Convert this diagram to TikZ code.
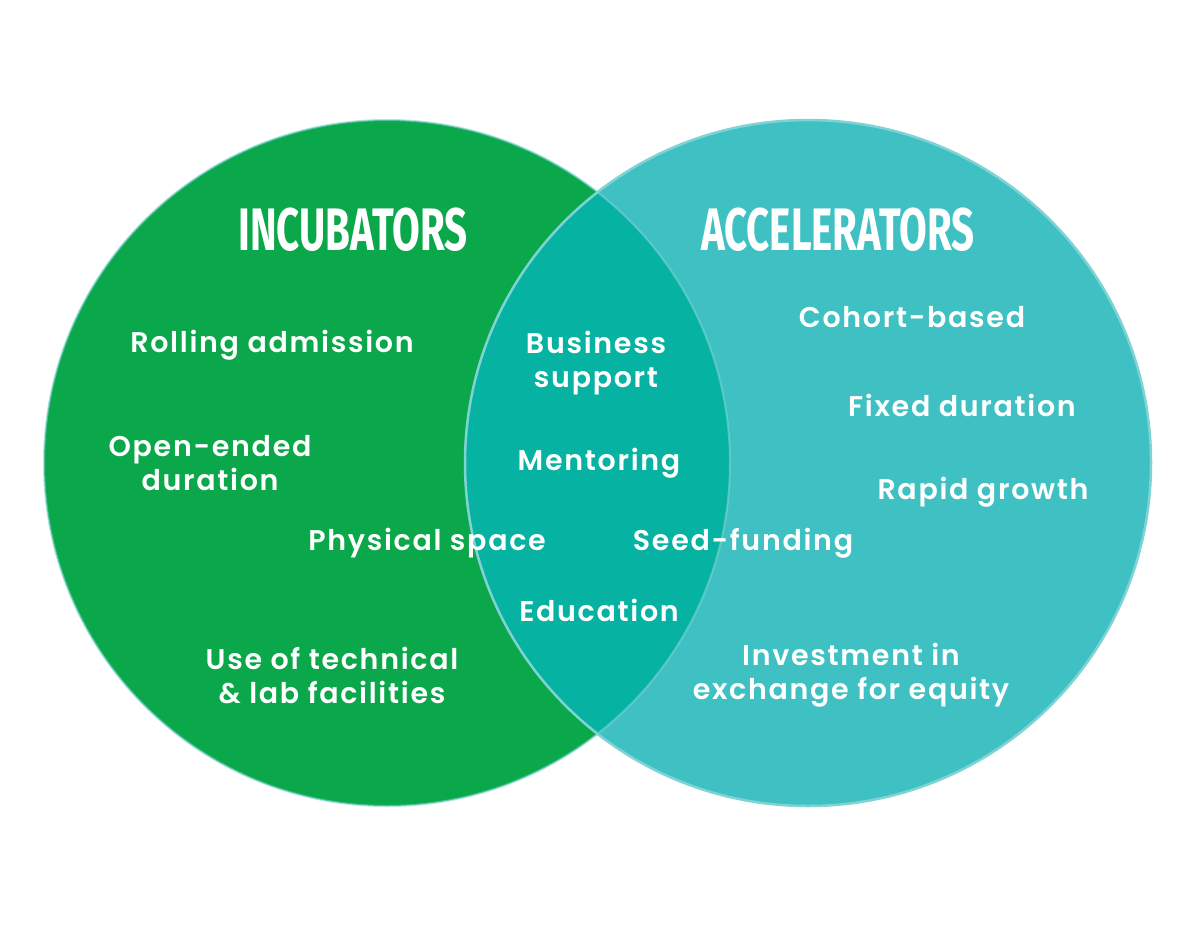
\documentclass[tikz,border=0pt]{standalone}
\usepackage{fontspec}
\setmainfont{Poppins}[UprightFont=* Medium,BoldFont=* SemiBold,LetterSpace=6]
\newfontfamily\titlefont{Fira Sans}[UprightFont=* Bold]
\definecolor{ingreen}{HTML}{0AA84A}
\definecolor{acteal}{HTML}{3FC1C3}
\definecolor{mid}{HTML}{06B3A2}
\definecolor{edge}{HTML}{7FD3D5}
\begin{document}
\begin{tikzpicture}[x=1pt,y=-1pt,
  lbl/.style={text=white,font=\fontsize{28.5}{34}\selectfont\bfseries,align=center,inner sep=0pt},
  ttl/.style={text=white,inner sep=0pt,font=\titlefont\fontsize{60}{60}\selectfont}]
\useasboundingbox (0,0) rectangle (1200,927);
\fill[white] (0,0) rectangle (1200,927);
\fill[ingreen] (387,463) circle[radius=343];
\fill[acteal] (808,463) circle[radius=343];
\begin{scope}
\clip (387,463) circle[radius=343];
\fill[mid] (808,463) circle[radius=343];
\end{scope}
\draw[edge,line width=2.5] (808,463) circle[radius=343];
\draw[edge,line width=2,opacity=0.6] (387,463) circle[radius=343];
\node[ttl] (inc) at (353,230) {\scalebox{0.67}[1]{INCUBATORS}};
\node[ttl] (acc) at (838,230) {\scalebox{0.67}[1]{ACCELERATORS}};
\node[lbl] (a1) at (272,345) {Rolling admission};
\node[lbl] (a2) at (210,463) {Open-ended\\duration};
\node[lbl] (a3) at (427,543) {Physical space};
\node[lbl] (a4) at (332,675) {Use of technical\\\& lab facilities};
\node[lbl] (b1) at (596,363) {Business\\support};
\node[lbl] (b2) at (599,463) {Mentoring};
\node[lbl] (b3) at (599,610) {Education};
\node[lbl] (c0) at (743,543) {Seed-funding};
\node[lbl] (c1) at (912,317) {Cohort-based};
\node[lbl] (c2) at (962,405) {Fixed duration};
\node[lbl] (c3) at (983,492) {Rapid growth};
\node[lbl] (c4) at (851,675) {Investment in\\exchange for equity};
\end{tikzpicture}
\end{document}
